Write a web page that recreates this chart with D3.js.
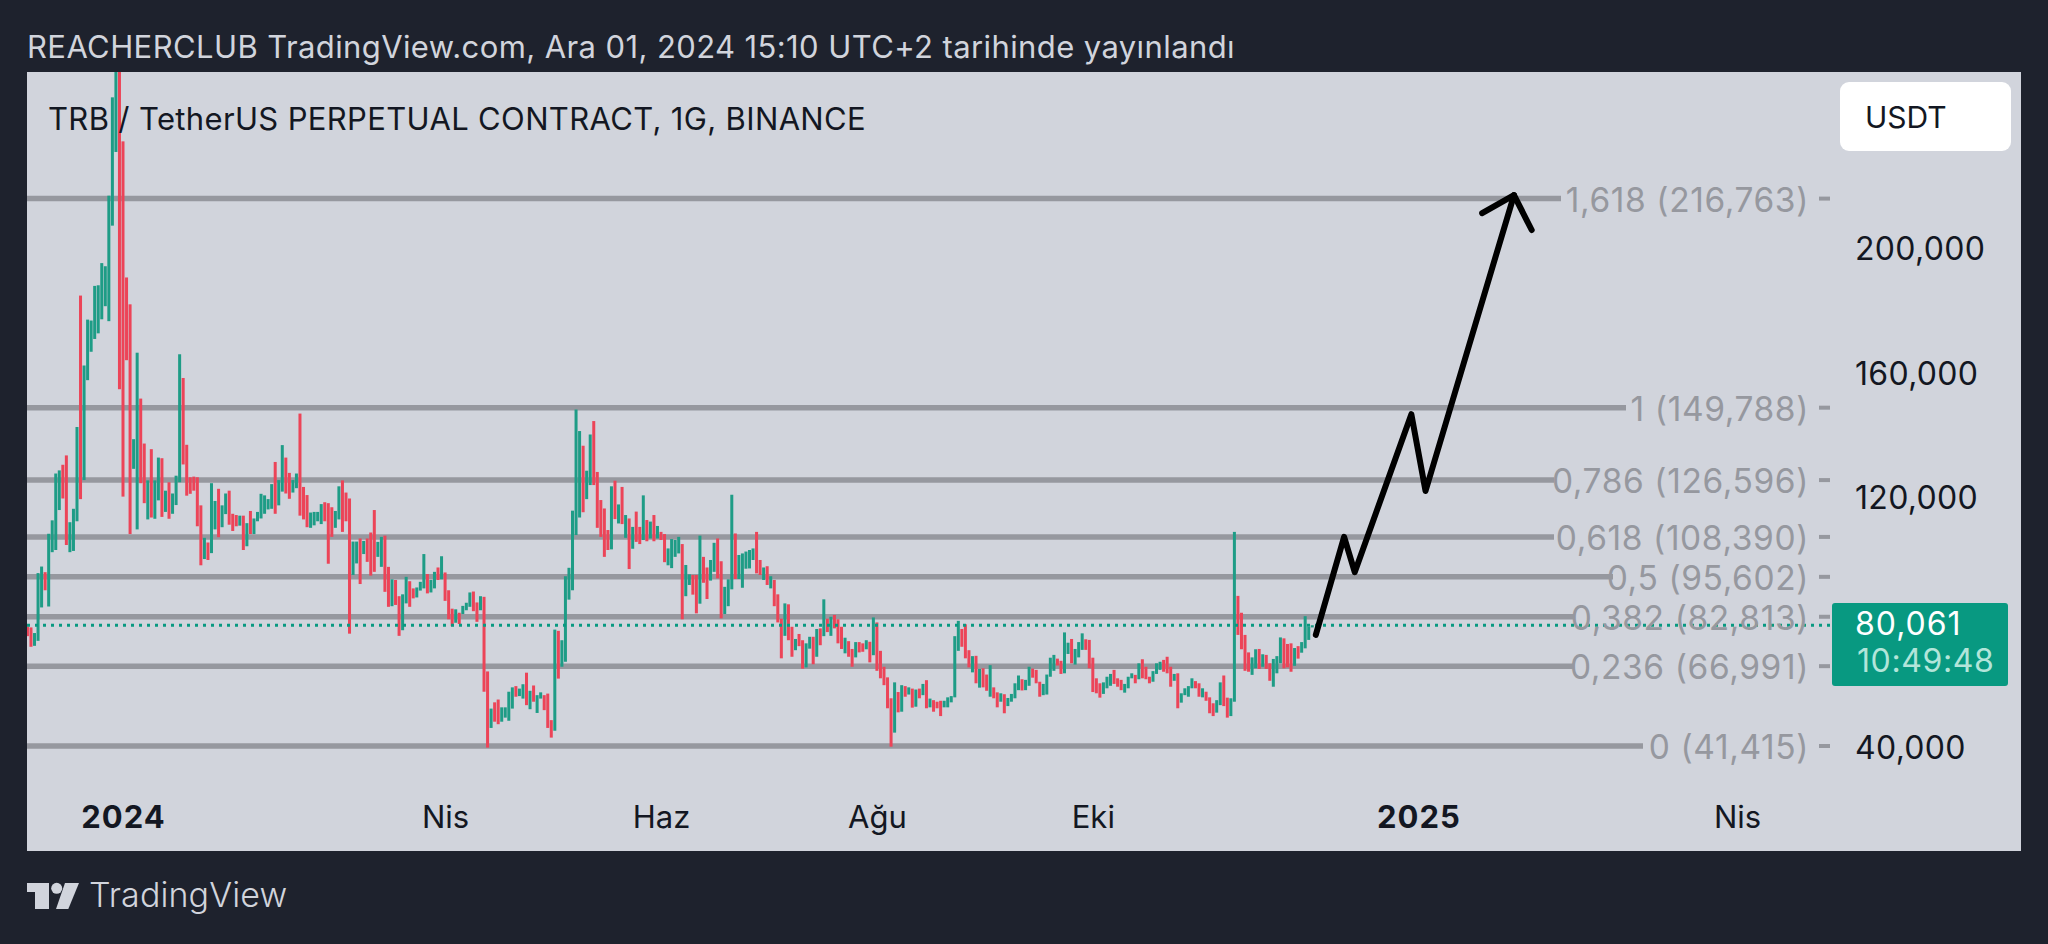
<!DOCTYPE html>
<html>
<head>
<meta charset="utf-8">
<script src="https://cdn.jsdelivr.net/npm/d3@7/dist/d3.min.js"></script>
<style>
  html, body { margin: 0; padding: 0; background: #1e222d; }
  svg { display: block; }
  text { font-family: Inter, "Noto Sans", sans-serif; }
</style>
</head>
<body>
<svg id="svgChart" width="2048" height="944"></svg>
<script>
// daily bars, one per day from firstBar
var firstBar = "2023-12-05";
var barHigh = [
  79.7,79.4,77.6,96.8,98.9,97.1,109.4,113.7,128.7,129.7,131.5,134.5,113.1,117.4,143.6,185.7,163.3,178.0,177.7,188.8,
  189.0,196.1,195.1,217.7,249.2,262.0,262.0,235.1,191.5,182.9,139.7,167.4,152.7,138.3,126.5,136.5,126.5,133.8,133.6,123.2,
  125.9,122.3,128.0,166.9,159.3,137.9,127.5,127.7,127.5,118.5,108.1,106.6,125.6,119.9,123.8,118.5,122.3,123.2,115.8,115.4,
  115.2,115.2,112.8,116.7,114.3,116.4,122.2,121.7,120.5,125.3,132.4,126.6,137.8,133.8,128.9,126.6,128.7,147.9,124.4,121.8,
  116.2,116.4,116.4,118.9,119.5,119.2,117.9,116.7,124.6,126.5,122.6,120.7,106.9,106.9,
  107.9,107.1,107.9,109.8,117.0,106.8,108.4,108.8,98.8,94.8,94.6,89.4,90.0,95.6,94.2,91.9,92.2,94.0,102.9,96.5,
  94.6,97.2,98.6,102.2,97.0,91.3,85.4,85.2,84.1,86.3,87.3,90.6,90.9,87.4,89.4,89.2,65.3,53.4,55.4,56.3,
  53.8,53.8,58.8,60.2,60.6,59.8,61.2,64.9,59.1,60.8,57.7,58.6,57.7,58.2,49.7,78.7,78.3,75.3,95.8,98.5,
  116.8,149.2,142.3,137.6,129.6,141.2,145.5,129.2,120.2,117.5,110.6,124.6,126.4,118.8,124.4,115.4,114.3,111.6,116.5,111.6,
  121.7,113.8,113.3,115.4,111.9,110.0,109.3,104.7,107.7,107.4,108.4,
  106.1,99.4,96.4,96.2,96.2,108.8,102.0,98.6,101.0,106.5,107.9,100.6,92.4,94.8,121.9,109.5,102.6,103.1,103.7,104.2,
  104.7,110.0,101.0,98.6,99.0,95.8,94.6,90.0,82.2,87.1,86.8,79.6,75.7,77.3,75.3,74.3,76.4,76.4,78.9,79.1,
  88.4,82.2,82.8,83.4,82.0,79.6,76.1,75.0,72.5,74.7,74.7,74.3,75.3,74.8,82.6,81.0,71.9,66.8,63.4,56.7,
  61.8,58.7,60.9,60.6,60.2,59.8,59.5,59.8,61.3,62.5,56.6,56.1,55.6,55.9,55.9,57.0,57.4,76.6,81.5,78.9,
  80.4,72.1,70.2,70.3,66.1,66.3,64.3,67.3,60.2,58.6,58.3,58.0,56.8,
  58.1,61.5,64.0,62.8,62.6,66.8,66.2,65.8,62.0,61.3,64.3,69.7,70.6,69.4,68.7,77.8,74.5,75.7,72.5,74.7,
  77.5,75.6,75.4,69.7,63.1,61.5,61.8,63.6,64.5,65.8,63.1,62.6,61.3,63.6,64.7,64.2,67.9,69.2,66.8,63.6,
  65.4,67.9,68.4,69.0,70.0,66.8,64.5,64.7,58.3,59.9,60.6,63.1,62.2,61.5,59.9,58.8,57.0,55.1,56.1,61.8,
  64.0,56.9,56.7,110.0,89.5,84.1,77.0,71.4,69.8,72.4,72.5,70.8,70.6,67.9,69.3,70.2,76.2,75.9,74.1,74.3,
  72.8,73.4,74.7,83.0,79.6,80.1
];
var barLow = [
  76.6,73.2,73.5,75.1,85.8,91.3,86.1,103.5,104.2,117.0,120.7,105.8,103.5,103.9,113.4,120.5,126.6,158.6,167.7,171.8,
  173.6,178.1,182.3,177.5,208.1,231.7,155.7,121.3,165.0,109.3,130.2,110.8,125.6,119.2,114.0,114.6,114.2,120.1,114.8,116.4,
  114.2,115.8,118.6,125.9,131.6,121.6,122.2,123.2,111.8,99.3,101.3,101.0,103.2,110.8,108.3,111.5,115.7,112.3,110.3,111.8,
  112.0,104.2,105.4,109.3,109.3,113.4,114.3,115.8,117.2,117.4,115.8,118.5,122.9,122.3,120.6,122.6,124.0,115.2,114.0,111.5,
  111.3,112.1,113.4,112.5,113.4,99.8,108.4,111.3,114.0,110.0,113.4,77.4,96.2,99.9,
  93.3,102.9,100.4,96.0,97.2,102.0,98.8,90.8,86.0,86.2,86.6,76.7,78.5,87.1,86.0,88.7,89.0,91.2,91.9,90.3,
  90.6,91.9,94.6,94.8,87.9,82.0,79.8,80.9,80.5,83.7,84.9,86.0,84.6,81.2,84.9,58.8,40.9,47.2,49.2,48.4,
  49.2,50.5,49.5,53.4,57.2,57.4,56.6,54.5,53.2,55.6,52.0,56.6,52.9,47.2,44.1,46.3,63.0,66.8,68.4,88.3,
  91.3,109.0,114.6,116.3,120.5,125.0,125.0,111.3,108.4,102.0,104.2,104.4,114.1,112.7,112.5,108.1,98.1,104.6,106.8,106.1,
  107.4,107.0,107.9,107.0,107.9,107.4,100.3,99.3,98.4,102.0,103.1,
  82.0,89.4,93.0,89.9,83.9,87.0,93.7,88.5,94.4,97.2,95.1,82.3,83.7,86.2,91.6,94.9,94.9,92.1,98.2,98.3,
  101.0,96.7,96.2,94.6,93.0,91.9,86.2,81.0,69.5,76.7,75.3,70.0,72.1,73.4,66.2,66.6,72.6,67.6,70.0,73.7,
  76.6,77.9,76.7,79.1,74.3,72.5,71.1,70.0,66.8,69.8,71.4,71.6,72.4,68.2,70.5,65.5,63.1,60.9,53.5,41.2,
  45.7,52.2,52.4,57.2,57.9,53.7,54.0,56.7,57.7,53.5,53.8,52.4,53.5,51.0,53.8,53.8,55.4,57.0,71.9,73.2,
  69.5,66.6,65.0,61.5,60.1,60.2,59.1,57.2,56.7,53.8,55.6,51.9,54.2,
  55.6,56.7,59.3,59.2,59.3,60.7,63.3,61.5,57.2,57.7,57.9,63.6,65.5,67.2,64.5,64.7,70.9,67.9,67.5,69.8,
  72.2,72.2,66.3,58.7,58.3,56.9,58.1,59.9,60.7,61.3,60.4,59.3,58.5,59.9,63.1,61.5,62.8,63.1,62.8,61.5,
  62.0,64.5,65.8,65.2,64.7,60.4,62.3,53.5,55.3,57.7,57.2,59.9,59.9,57.2,57.0,55.9,51.9,51.0,52.1,54.5,
  54.2,50.5,51.0,55.6,77.0,72.4,65.5,65.2,64.2,66.3,66.1,66.8,66.1,62.3,60.4,64.7,67.9,66.3,66.6,65.2,
  67.1,69.4,71.3,72.7,75.4,79.4
];
// g = closed up, r = closed down
var barDir =
  "rrgggrggggrrgggrggggggggggrrrrggrrgrggrgrgggrrrrrrgrggrggrrrgrgrggggggrggrrggrrrggggrrrggrrrgg" +
  "rgrrrggrrgrrggrrgggrggrgrrrgrgggrrgrrgrrggggrggrgrggrrrgrggggggrggrrrrrgrgrgrgrrgrgrgrrgggg" +
  "rggrrgrrggrrgggrgggggrrgrgrrrgrrgrrggrgrgrgrrrgrrgrrgrgrrrrrgrgrgrgrgrgrrrgggggrrrgrgrrgrrgrg" +
  "gggrggrrrggggrrggrgggrrrrrgggrrrgggrgrrrgggrrrgrggggrrgrrrggrrggrrrrggrgrrgggrrrgrgggg";

var fibRatio = ["1,618", "1", "0,786", "0,618", "0,5", "0,382", "0,236", "0"];
var fibPrice = [216.763, 149.788, 126.596, 108.390, 95.602, 82.813, 66.991, 41.415];

var priceTicks = [200, 160, 120, 40];
var lastPrice = 80.061;
var countdown = "10:49:48";

var timeTicks = ["2024-01-01", "2024-04-01", "2024-06-01", "2024-08-01", "2024-10-01", "2025-01-01", "2025-04-01"];
var timeLabels = ["2024", "Nis", "Haz", "Ağu", "Eki", "2025", "Nis"];

var arrowDates = ["2024-12-03", "2024-12-11", "2024-12-14", "2024-12-30", "2025-01-03", "2025-01-28"];
var arrowPrices = [77.0, 108.4, 97.1, 147.7, 123.1, 217.9];
var headDates = ["2025-01-19", "2025-01-28", "2025-02-02"];
var headPrices = [212.1, 217.9, 206.7];

var parseDay = d3.utcParse("%Y-%m-%d");
var trLocale = d3.formatLocale({ decimal: ",", thousands: ".", grouping: [3], currency: ["", ""] });
var fmtPrice = trLocale.format(".3f");

var pane = { left: 27, right: 2021, top: 72, bottom: 851 };
var green = "#1e9c86", red = "#ec4458", grey = "#96989f", ink = "#131722";

var svg = d3.select("#svgChart");

svg.append("text").attr("x", 27).attr("y", 58)
  .attr("font-size", 31).attr("letter-spacing", 0.4).attr("fill", "#d1d4dc")
  .text("REACHERCLUB TradingView.com, Ara 01, 2024 15:10 UTC+2 tarihinde yayınlandı");

svg.append("rect").attr("x", pane.left).attr("y", pane.top)
  .attr("width", pane.right - pane.left).attr("height", pane.bottom - pane.top)
  .attr("fill", "#d1d4dc");

svg.append("defs").append("clipPath").attr("id", "paneClip").append("rect")
  .attr("x", pane.left).attr("y", pane.top)
  .attr("width", pane.right - pane.left).attr("height", pane.bottom - pane.top);

var x = d3.scaleUtc()
  .domain([parseDay("2024-01-01"), parseDay("2025-04-01")])
  .range([123, 1737]);

var y = d3.scaleLinear()
  .domain([41.415, 216.763])
  .range([746, 198.6]);

var chart = svg.append("g").attr("clip-path", "url(#paneClip)");

// fibonacci levels, each line stops where its label starts
var levelEnd = [1561, 1626, 1554, 1554, 1613, 1574, 1574, 1643];
chart.selectAll("line.level").data(fibPrice).enter().append("line")
  .attr("class", "level")
  .attr("x1", pane.left)
  .attr("x2", function(d, i) { return levelEnd[i]; })
  .attr("y1", function(d) { return y(d); })
  .attr("y2", function(d) { return y(d); })
  .attr("stroke", grey).attr("stroke-width", 5.5);

var start = parseDay(firstBar);
chart.selectAll("rect.bar").data(barHigh).enter().append("rect")
  .attr("class", "bar")
  .attr("x", function(d, i) { return x(d3.utcDay.offset(start, i)) - 1.5; })
  .attr("width", 3)
  .attr("y", function(d) { return y(d); })
  .attr("height", function(d, i) { return y(barLow[i]) - y(d); })
  .attr("fill", function(d, i) { return barDir[i] === "r" ? red : green; });

// last price
chart.append("line")
  .attr("x1", pane.left).attr("x2", 1832)
  .attr("y1", y(lastPrice)).attr("y2", y(lastPrice))
  .attr("stroke", "#089981").attr("stroke-width", 3).attr("stroke-dasharray", "3,5");

// hand drawn arrow
var arrowLine = d3.line()
  .x(function(d) { return x(parseDay(d[0])); })
  .y(function(d) { return y(d[1]); });

chart.append("path")
  .attr("d", arrowLine(d3.zip(arrowDates, arrowPrices)))
  .attr("fill", "none").attr("stroke", "#000").attr("stroke-width", 6)
  .attr("stroke-linejoin", "round").attr("stroke-linecap", "round");
chart.append("path")
  .attr("d", arrowLine(d3.zip(headDates, headPrices)))
  .attr("fill", "none").attr("stroke", "#000").attr("stroke-width", 6)
  .attr("stroke-linejoin", "round").attr("stroke-linecap", "round");

// fib labels and their ticks on the scale
svg.selectAll("text.fib").data(fibPrice).enter().append("text")
  .attr("class", "fib")
  .attr("x", 1809)
  .attr("y", function(d) { return y(d) + 13; })
  .attr("text-anchor", "end")
  .attr("font-size", 33.5).attr("letter-spacing", 0.6).attr("fill", grey)
  .text(function(d, i) { return fibRatio[i] + " (" + fmtPrice(d) + ")"; });

svg.selectAll("line.fibTick").data(fibPrice).enter().append("line")
  .attr("class", "fibTick")
  .attr("x1", 1819).attr("x2", 1830)
  .attr("y1", function(d) { return y(d); })
  .attr("y2", function(d) { return y(d); })
  .attr("stroke", grey).attr("stroke-width", 4);

// price axis
var yAxis = svg.append("g")
  .attr("transform", "translate(1855,0)")
  .call(d3.axisRight(y).tickValues(priceTicks).tickSize(0).tickPadding(0).tickFormat(fmtPrice));
yAxis.select(".domain").remove();
yAxis.selectAll("text")
  .attr("font-family", "Inter, sans-serif").attr("font-size", 32).attr("letter-spacing", 0.3).attr("fill", ink)
  .attr("transform", "translate(0,-2)");

// time axis
var xAxis = svg.append("g")
  .attr("transform", "translate(0,806)")
  .call(d3.axisBottom(x)
    .tickValues(timeTicks.map(parseDay))
    .tickSize(0).tickPadding(0)
    .tickFormat(function(d, i) { return timeLabels[i]; }));
xAxis.select(".domain").remove();
xAxis.selectAll("text")
  .attr("font-family", "Inter, sans-serif").attr("font-size", 31).attr("fill", ink)
  .attr("letter-spacing", function(d, i) { return /^\d/.test(timeLabels[i]) ? 1 : 0; })
  .attr("font-weight", function(d, i) { return /^\d/.test(timeLabels[i]) ? 700 : 400; });

// green price tag
svg.append("rect").attr("x", 1832).attr("y", 603).attr("width", 176).attr("height", 83).attr("rx", 3)
  .attr("fill", "#089981");
svg.append("text").attr("x", 1855).attr("y", 635).attr("font-size", 32).attr("letter-spacing", 1).attr("fill", "#fff")
  .text(fmtPrice(lastPrice));
svg.append("text").attr("x", 1857).attr("y", 672).attr("font-size", 32).attr("letter-spacing", 0.6).attr("fill", "#b2e5da")
  .text(countdown);

svg.append("text").attr("x", 48).attr("y", 130)
  .attr("font-size", 31).attr("letter-spacing", 0.35).attr("fill", ink)
  .text("TRB / TetherUS PERPETUAL CONTRACT, 1G, BINANCE");

// USDT button
svg.append("rect").attr("x", 1840).attr("y", 82).attr("width", 171).attr("height", 69).attr("rx", 9)
  .attr("fill", "#fff");
svg.append("text").attr("x", 1865).attr("y", 128).attr("font-size", 30).attr("fill", ink).text("USDT");

// TradingView logo
var logo = svg.append("g").attr("fill", "#d1d4dc");
logo.append("path").attr("d", "M27,883H49V909H35V892H27Z");
logo.append("circle").attr("cx", 56.7).attr("cy", 888.3).attr("r", 5.5);
logo.append("path").attr("d", "M65,883H79L68.3,909H56Z");
svg.append("text").attr("x", 89).attr("y", 907).attr("font-size", 34).attr("letter-spacing", 0.1)
  .attr("font-weight", 300).attr("fill", "#d1d4dc").text("TradingView");
</script>
</body>
</html>
